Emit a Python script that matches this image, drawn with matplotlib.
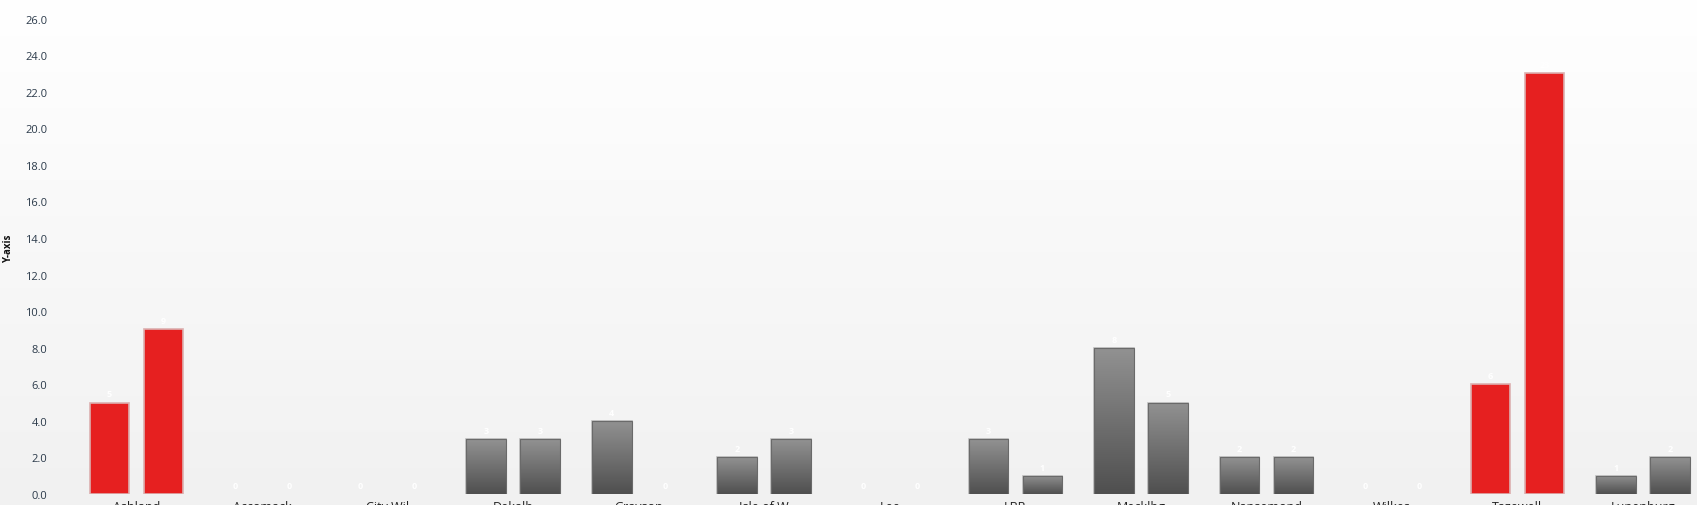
import matplotlib
matplotlib.use('Agg')
import matplotlib.pyplot as plt
from matplotlib.colors import LinearSegmentedColormap
import numpy as np

plt.rcParams['font.family'] = ['Open Sans', 'DejaVu Sans']

# data (category names are clipped in the original)
categories = ['Ashland', 'Accomack', 'City Wil', 'Dekalb', 'Grayson', 'Isle of W',
              'Lee', 'LBR', 'Mecklbg', 'Nansemond', 'Wilkes', 'Tazewell', 'Lunenburg']
series_a = [5, 0, 0, 3, 4, 2, 0, 3, 8, 2, 0, 6, 1]
series_b = [9, 0, 0, 3, 0, 3, 0, 1, 5, 2, 0, 23, 2]
highlight = [True, False, False, False, False, False, False, False, False, False, False, True, False]
y_ticks = np.arange(0, 27, 2)

W, H = 1697, 506
fig = plt.figure(figsize=(W / 100, H / 100), dpi=100)

# page background gradient, white at top, light grey at bottom
bg = fig.add_axes([0, 0, 1, 1], zorder=-10)
grad = np.linspace(0, 1, 256).reshape(-1, 1)
bg_cmap = LinearSegmentedColormap.from_list('bg', ['#f1f1f1', '#ffffff'])
bg.imshow(grad, aspect='auto', cmap=bg_cmap, extent=[0, 1, 0, 1], origin='lower')
bg.set_axis_off()

left = 60 / W
bottom = (H - 495) / H
top = (H - 19.5) / H
ax = fig.add_axes([left, bottom, 1 - left, top - bottom])
ax.patch.set_alpha(0)

x = np.arange(len(categories))
off = 0.215
bw = 0.315
gray_cmap = LinearSegmentedColormap.from_list('bar', ['#4f4f4f', '#929292'])
bar_grad = np.linspace(0, 1, 256).reshape(-1, 1)

for vals, sign in [(series_a, -1), (series_b, 1)]:
    for i, v in enumerate(vals):
        xc = x[i] + sign * off
        if v > 0:
            if highlight[i]:
                ax.bar(xc, v, width=bw, color='#e62020', edgecolor='#dcb0b0', linewidth=1.2, zorder=3)
            else:
                b = ax.bar(xc, v, width=bw, color='#777777', edgecolor='#bdbdbd', linewidth=1.2, zorder=3)
                im = ax.imshow(bar_grad, aspect='auto', cmap=gray_cmap, origin='lower',
                               extent=[xc - bw / 2, xc + bw / 2, 0, v], zorder=4)
                im.set_clip_path(b.patches[0])
                ax.bar(xc, v, width=bw, color='none', edgecolor='#6a6a6a', linewidth=0.8, zorder=5)
        ax.annotate(str(v), (xc, v), xytext=(0, 3), textcoords='offset points',
                    ha='center', va='bottom', color='white', fontsize=6.5, fontweight='bold', zorder=6)

ax.set_xlim(-0.61, 12.43)
ax.set_ylim(0, 26)
ax.set_yticks(y_ticks)
ax.set_yticklabels(['%.1f' % t for t in y_ticks], fontsize=8, color='#2b3a4a')
ax.set_xticks(x)
ax.set_xticklabels(categories, fontsize=9, color='#222222')
ax.tick_params(axis='both', length=0)
ax.tick_params(axis='y', pad=9)
ax.tick_params(axis='x', pad=4)
for s in ax.spines.values():
    s.set_visible(False)

fig.text(9 / W, 1 - 249 / H, 'Y-axis', rotation=90, ha='center', va='center',
         fontsize=7, fontweight='bold', color='#111111')

fig.savefig('out.png', dpi=100)
plt.close()
